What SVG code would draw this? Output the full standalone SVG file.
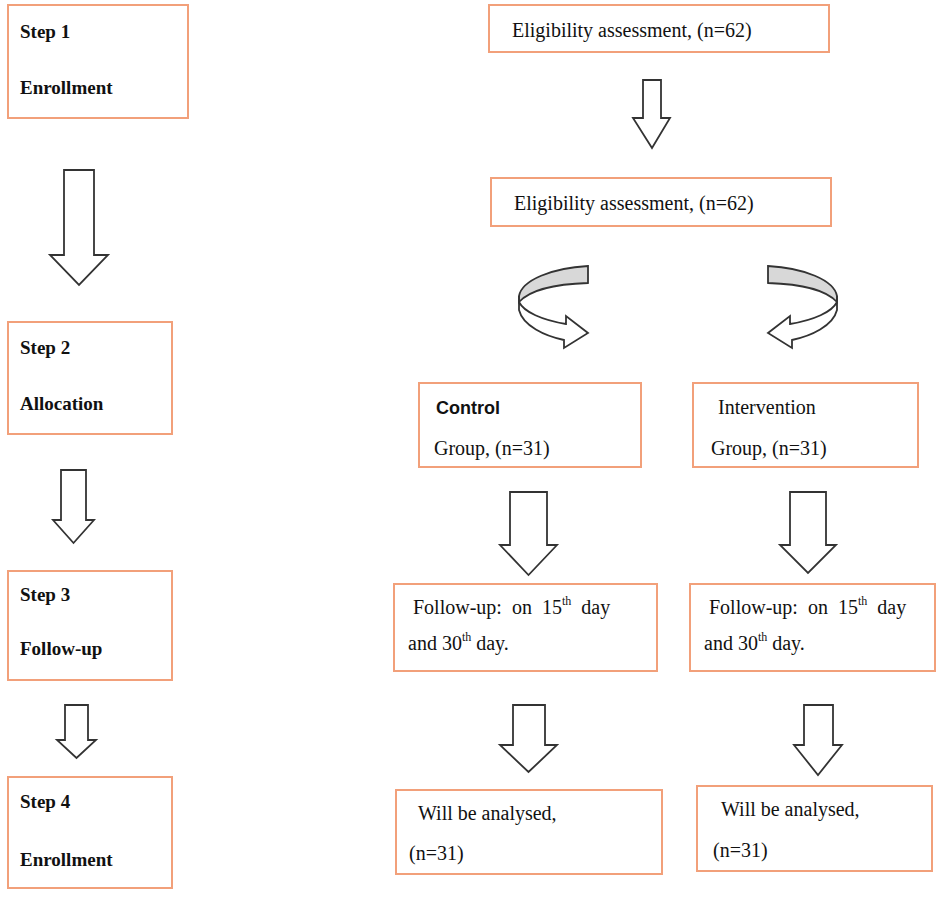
<svg xmlns="http://www.w3.org/2000/svg" width="950" height="900" viewBox="0 0 950 900">
<style>
.b{fill:#fff;stroke:#f2a07a;stroke-width:2}
.t{font-family:"Liberation Serif",serif;font-size:20px;fill:#111}
.s{font-family:"Liberation Serif",serif;font-size:19px;font-weight:bold;fill:#111}
.a{fill:#fff;stroke:#333;stroke-width:1.8;stroke-linejoin:miter}
</style>
<rect width="950" height="900" fill="#fff"/>
<g id="step1"><rect class="b" x="8" y="5" width="180" height="113"/><text class="s" x="20" y="38">Step 1</text><text class="s" x="20" y="94">Enrollment</text></g>
<g id="step2"><rect class="b" x="8" y="322" width="164" height="112"/><text class="s" x="20" y="354">Step 2</text><text class="s" x="20" y="410">Allocation</text></g>
<g id="step3"><rect class="b" x="8" y="571" width="164" height="109"/><text class="s" x="20" y="601">Step 3</text><text class="s" x="20" y="655">Follow-up</text></g>
<g id="step4"><rect class="b" x="8" y="777" width="164" height="111"/><text class="s" x="20" y="808">Step 4</text><text class="s" x="20" y="866">Enrollment</text></g>
<g id="elig1"><rect class="b" x="489" y="5" width="340" height="47"/><text class="t" x="512" y="37">Eligibility assessment, (n=62)</text></g>
<g id="elig2"><rect class="b" x="491" y="178" width="340" height="48"/><text class="t" x="514" y="210">Eligibility assessment, (n=62)</text></g>
<g id="control"><rect class="b" x="419" y="383" width="222" height="84"/><text x="436" y="414" style="font-family:'Liberation Sans',sans-serif;font-size:18px;font-weight:bold;fill:#111">Control</text><text class="t" x="434" y="455">Group, (n=31)</text></g>
<g id="intervention"><rect class="b" x="693" y="383" width="225" height="84"/><text class="t" x="718" y="414">Intervention</text><text class="t" x="711" y="455">Group, (n=31)</text></g>
<g id="follow1"><rect class="b" x="394" y="584" width="263" height="87"/><text class="t" x="413" y="614" xml:space="preserve">Follow-up:  on  15<tspan font-size="12" dy="-9">th</tspan><tspan dy="9">  day</tspan></text><text class="t" x="408" y="650">and 30<tspan font-size="12" dy="-9">th</tspan><tspan dy="9"> day.</tspan></text></g>
<g id="follow2"><rect class="b" x="690" y="584" width="245" height="87"/><text class="t" x="709" y="614" xml:space="preserve">Follow-up:  on  15<tspan font-size="12" dy="-9">th</tspan><tspan dy="9">  day</tspan></text><text class="t" x="704" y="650">and 30<tspan font-size="12" dy="-9">th</tspan><tspan dy="9"> day.</tspan></text></g>
<g id="analysed1"><rect class="b" x="396" y="790" width="266" height="84"/><text class="t" x="418" y="820">Will be analysed,</text><text class="t" x="409" y="860">(n=31)</text></g>
<g id="analysed2"><rect class="b" x="697" y="786" width="235" height="85"/><text class="t" x="721" y="816">Will be analysed,</text><text class="t" x="713" y="857">(n=31)</text></g>
<g id="connectors">
<path class="a" d="M64,170 H94 V255 H108 L79,285 L50,255 H64 Z"/>
<path class="a" d="M61,470 H86 V520 H94 L73.5,543 L53,520 H61 Z"/>
<path class="a" d="M65,705 H88 V740 H96 L76.5,758 L57,740 H65 Z"/>
<path class="a" d="M643,80 H661 V118 H670 L652,148 L633,118 H643 Z"/>
<path class="a" d="M510,492 H547 V545 H557 L528.5,575 L500,545 H510 Z"/>
<path class="a" d="M790,492 H826 V545 H836 L808,573 L780,545 H790 Z"/>
<path class="a" d="M513,705 H545 V745 H557 L528.5,772 L500,745 H513 Z"/>
<path class="a" d="M804,705 H833 V745 H842 L818,775 L794,745 H804 Z"/>
<g id="curl">
<path d="M588,266 L588,283 C555,284 530,290 519,302 L519,296 C522,280 552,268 588,266 Z" fill="#d8d8d8" stroke="#333" stroke-width="1.8"/>
<path class="a" d="M519,296 L519,310 C523,326 545,336 564,340 L564,348 L588,333 L566,316 L566,324 C542,320 524,312 519,302"/>
</g>
<use href="#curl" transform="translate(1356,0) scale(-1,1)"/>
</g>
</svg>
